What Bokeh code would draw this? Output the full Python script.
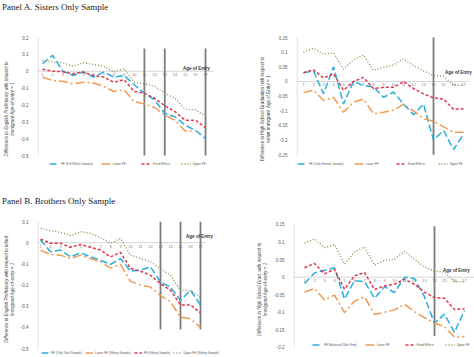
from bokeh.plotting import figure
from bokeh.models import Legend, LegendItem, FixedTicker, Div, Range1d, Label
from bokeh.core.properties import value
from bokeh.layouts import column, row
from bokeh.embed import file_html
from bokeh.resources import INLINE

ages = list(range(1, 18))
age_labels = [str(a) for a in ages]

# ---------- Panel A, left: English proficiency (sisters) ----------
tl_blue = [0.045, 0.094, 0.0, -0.025, -0.005, -0.035, -0.005, -0.035, -0.025, -0.08, -0.13, -0.17, -0.25, -0.27, -0.32, -0.35, -0.40]
tl_orange = [-0.035, -0.055, -0.06, -0.075, -0.065, -0.07, -0.09, -0.12, -0.11, -0.18, -0.195, -0.215, -0.26, -0.29, -0.355, -0.355]
tl_red = [0.012, 0.0, -0.003, -0.015, -0.005, -0.025, -0.035, -0.065, -0.05, -0.12, -0.13, -0.16, -0.205, -0.24, -0.29, -0.29, -0.335]
tl_green = [0.065, 0.055, 0.05, 0.03, 0.05, 0.04, 0.03, -0.005, 0.015, -0.065, -0.075, -0.09, -0.13, -0.16, -0.225, -0.23, -0.265]
tl_names = ["FE (Full Whole Sample)", "Lower FE", "Fixed Effects", "Upper FE"]
tl_yticks = [0.2, 0.1, 0, -0.1, -0.2, -0.3, -0.4, -0.5]
tl_ylabels = ["0.2", "0.1", "0", "-0.1", "-0.2", "-0.3", "-0.4", "-0.5"]
tl_vlines = [11, 13, 17]
tl_vspan = [0.135, -0.5]

# ---------- Panel A, right: high school graduation (sisters) ----------
tr_blue = [0.03, 0.036, -0.042, 0.05, -0.077, 0.0, -0.014, -0.018, -0.054, -0.036, -0.077, -0.113, -0.077, -0.2, -0.167, -0.232, -0.18]
tr_orange = [-0.038, -0.03, -0.065, -0.054, -0.105, -0.071, -0.06, -0.11, -0.105, -0.098, -0.077, -0.1, -0.127, -0.135, -0.155, -0.173, -0.173]
tr_red = [0.03, 0.04, 0.012, 0.026, -0.03, 0.0, 0.014, -0.024, -0.02, -0.02, 0.0, -0.024, -0.042, -0.056, -0.06, -0.095, -0.093]
tr_green = [0.1, 0.113, 0.093, 0.098, 0.042, 0.074, 0.09, 0.038, 0.048, 0.056, 0.077, 0.054, 0.036, 0.021, 0.018, -0.012, -0.012]
tr_names = ["FE (Only Female Sample)", "Lower FE", "Fixed Effects", "Upper FE"]
tr_yticks = [0.15, 0.1, 0.05, 0, -0.05, -0.1, -0.15, -0.2, -0.25]
tr_ylabels = ["0.15", "0.1", "0.05", "0", "-0.05", "-0.1", "-0.15", "-0.2", "-0.25"]
tr_vlines = [14]
tr_vspan = [0.16, -0.25]

# ---------- Panel B, left: English proficiency (brothers) ----------
bl_blue = [0.013, -0.043, -0.035, -0.067, -0.048, -0.067, -0.083, -0.103, -0.075, -0.135, -0.13, -0.114, -0.186, -0.21, -0.273, -0.225, -0.294]
bl_orange = [-0.035, -0.056, -0.059, -0.075, -0.059, -0.075, -0.09, -0.119, -0.103, -0.183, -0.2, -0.21, -0.25, -0.28, -0.352, -0.36, -0.4]
bl_red = [0.017, -0.003, -0.003, -0.022, -0.008, -0.022, -0.035, -0.067, -0.046, -0.122, -0.135, -0.154, -0.194, -0.225, -0.294, -0.294, -0.332]
bl_green = [0.068, 0.057, 0.049, 0.033, 0.052, 0.044, 0.024, -0.003, 0.02, -0.059, -0.075, -0.09, -0.122, -0.154, -0.225, -0.225, -0.257]
bl_names = ["FE (Only Total Sample)", "Lower FE (Sibling Sample)", "FE (Sibling Sample)", "Upper FE (Sibling Sample)"]
bl_yticks = [0.1, 0, -0.1, -0.2, -0.3, -0.4, -0.5]
bl_ylabels = ["0.1", "0", "-0.1", "-0.2", "-0.3", "-0.4", "-0.5"]
bl_vlines = [13, 15, 17]
bl_vspan = [0.1, -0.41]

# ---------- Panel B, right: high school graduation (brothers) ----------
br_blue = [-0.018, 0.012, 0.02, 0.027, -0.062, -0.01, -0.013, -0.06, -0.027, -0.044, 0.0, -0.004, -0.056, -0.131, -0.105, -0.157, -0.095]
br_orange = [-0.042, -0.032, -0.065, -0.051, -0.101, -0.068, -0.056, -0.106, -0.1, -0.093, -0.077, -0.098, -0.115, -0.131, -0.141, -0.171, -0.169]
br_red = [0.027, 0.039, 0.01, 0.022, -0.034, 0.004, 0.013, -0.035, -0.025, -0.02, -0.006, -0.02, -0.043, -0.058, -0.06, -0.092, -0.09]
br_green = [0.097, 0.109, 0.084, 0.093, 0.037, 0.072, 0.086, 0.034, 0.048, 0.051, 0.074, 0.051, 0.029, 0.017, 0.015, -0.013, -0.013]
br_names = ["FE Balanced (Sibs Fem)", "Lower FE", "Fixed Effects", "Upper FE"]
br_yticks = [0.15, 0.1, 0.05, 0, -0.05, -0.1, -0.15, -0.2]
br_ylabels = ["0.15", "0.1", "0.05", "0", "-0.05", "-0.1", "-0.15", "-0.2"]
br_vlines = [14]
br_vspan = [0.145, -0.167]

COLORS = ["#2aaedb", "#f09a50", "#e2374e", "#7d8f45"]
DASHES = ["7 3", "9 3 2 3", "3 2", "1 2"]
WIDTHS = [1.5, 1.5, 1.5, 1.3]
FONT = "Liberation Sans"


def make_panel(fw, fh, b_left, b_top, xr, yr, zero_end, yticks, ylabels,
               ytitle, ytitle_style, series, names, vlines, vspan, age_xy,
               legend_loc, legend_spacing, legend_glyph):
    p = figure(frame_width=fw, frame_height=fh, output_backend="svg",
               toolbar_location=None,
               x_range=Range1d(*xr), y_range=Range1d(*yr),
               min_border_left=b_left, min_border_top=b_top,
               min_border_right=0, min_border_bottom=0)
    p.outline_line_color = None
    p.grid.visible = False
    p.xaxis.visible = False

    # y axis line only across the tick span
    ax_x = xr[0] + 0.06
    p.line([ax_x, ax_x], [yticks[0], yticks[-1]], line_color="#d6d6d6", line_width=1)
    # zero line and age labels along it
    p.line([xr[0], zero_end], [0, 0], line_color="#d6d6d6", line_width=1)
    p.text(x=ages, y=[0] * len(ages), text=age_labels, text_font=value(FONT),
           text_font_size="4px", text_color="#808080", text_align="center",
           text_baseline="top", y_offset=2)

    p.yaxis.ticker = FixedTicker(ticks=yticks)
    p.yaxis.major_label_overrides = {t: l for t, l in zip(yticks, ylabels)}
    p.yaxis.axis_line_color = None
    p.yaxis.major_tick_line_color = None
    p.yaxis.minor_tick_line_color = None
    p.yaxis.major_label_text_font_size = "4.5px"
    p.yaxis.major_label_text_color = "#595959"
    p.yaxis.major_label_text_font = FONT
    p.yaxis.major_label_standoff = 3
    p.yaxis.axis_label = ytitle
    p.yaxis.axis_label_text_font_size = "4.5px"
    p.yaxis.axis_label_text_font_style = ytitle_style
    p.yaxis.axis_label_text_font = FONT
    p.yaxis.axis_label_text_color = "#404040"
    p.yaxis.axis_label_standoff = 3

    p.segment(x0=vlines, y0=[vspan[0]] * len(vlines), x1=vlines,
              y1=[vspan[1]] * len(vlines), line_color="#7c7c7c", line_width=1.8)

    items = []
    for vals, name, c, d, lw in zip(series, names, COLORS, DASHES, WIDTHS):
        r = p.line(ages[:len(vals)], vals, line_color=c, line_dash=d, line_width=lw)
        items.append(LegendItem(label=name, renderers=[r]))

    p.add_layout(Label(x=age_xy[0], y=age_xy[1], text="Age of Entry",
                       text_font_size="4.5px", text_font_style="bold",
                       text_font=FONT, text_color="#333333",
                       text_align="center", text_baseline="bottom"))

    leg = Legend(items=items, orientation="horizontal", location=legend_loc,
                 label_text_font_size="3px", label_text_font=FONT,
                 label_text_color="#595959",
                 glyph_width=legend_glyph, glyph_height=5, label_height=5,
                 label_standoff=2, spacing=legend_spacing, padding=0, margin=0,
                 border_line_color=None, background_fill_alpha=0)
    p.add_layout(leg, "center")
    return p


p_tl = make_panel(204, 143, 33, 23, (0.51, 20.53), (-0.648, 0.2), 17.88,
                  tl_yticks, tl_ylabels,
                  "Difference in English Proficiency with respect to\nImmigrant Age-of-entry = 1",
                  "italic", [tl_blue, tl_orange, tl_red, tl_green], tl_names,
                  tl_vlines, tl_vspan, (16.1, 0.004), (12, 14), 8, 10)

p_tr = make_panel(182, 143, 55, 23, (0.3, 18.5), (-0.3377, 0.15), 17.5,
                  tr_yticks, tr_ylabels,
                  "Difference in High School Graduation with respect to\nInfant Immigrant: Age of Entry = 1",
                  "normal", [tr_blue, tr_orange, tr_red, tr_green], tr_names,
                  tr_vlines, tr_vspan, (16.5, 0.022), (1, 14), 10, 10)

p_bl = make_panel(207, 136, 30, 13, (0.7, 21.4), (-0.5425, 0.1), 17.5,
                  bl_yticks, bl_ylabels,
                  "Difference in English Proficiency with respect to infant\nImmigrant Age-of-entry = 1",
                  "italic", [bl_blue, bl_orange, bl_red, bl_green], bl_names,
                  bl_vlines, bl_vspan, (16.9, 0.018), (4, 2), 3, 8)

p_br = make_panel(188, 136, 49, 13, (-0.1, 18.7), (-0.2285, 0.1585), 18.2,
                  br_yticks, br_ylabels,
                  "Difference in High School Grad. with respect to\nImmigrant Age-of-entry = 1",
                  "italic", [br_blue, br_orange, br_red, br_green], br_names,
                  br_vlines, br_vspan, (16.2, 0.012), (19, 10), 8, 10)

title_style = {"font-family": "Liberation Serif", "font-size": "9px", "color": "#1a1a1a",
               "padding-left": "2px", "padding-top": "1px"}
div_a = Div(text="Panel A. Sisters Only Sample", width=474, height=14,
            margin=(0, 0, 0, 0), styles=title_style)
div_b = Div(text="Panel B. Brothers Only Sample", width=474, height=28,
            margin=(0, 0, 0, 0), styles=dict(title_style, **{"padding-top": "15px"}))

layout = column(div_a, row(p_tl, p_tr), div_b, row(p_bl, p_br))

open("out.html", "w").write(file_html(layout, INLINE))
